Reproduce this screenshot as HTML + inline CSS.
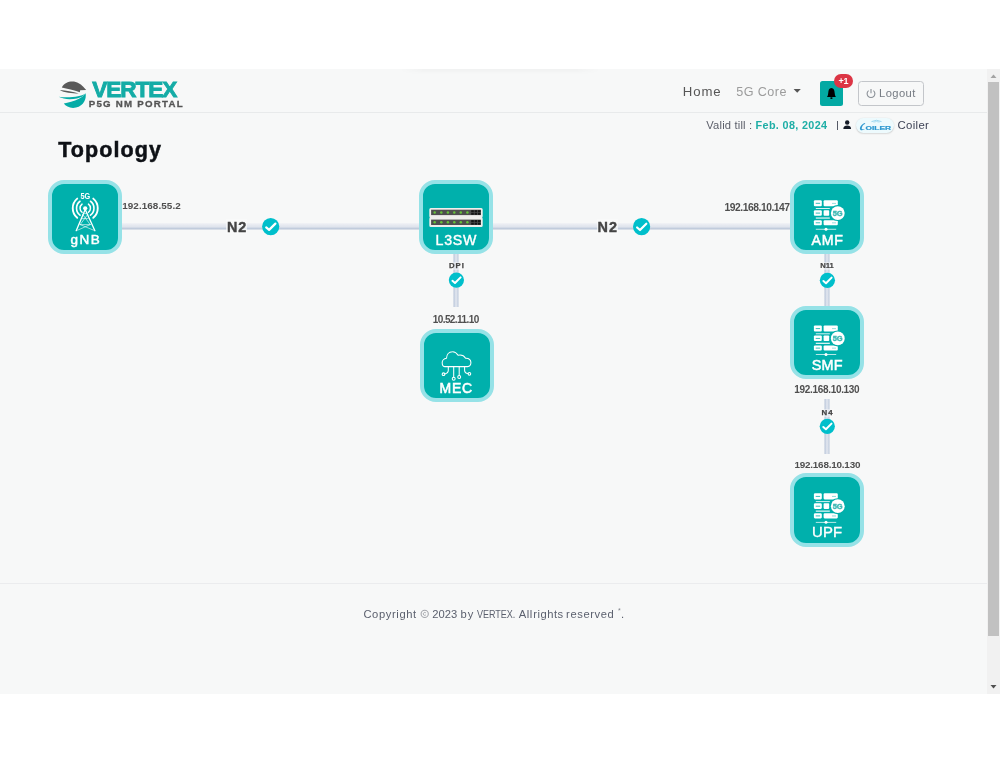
<!DOCTYPE html>
<html><head><meta charset="utf-8">
<style>
html,body{margin:0;padding:0;}
body{width:1000px;height:763px;background:#fff;position:relative;overflow:hidden;font-family:"Liberation Sans",sans-serif;}
.pg{position:absolute;left:0;top:69px;width:1000px;height:625px;background:#f7f8f8;}
.a{position:absolute;}
.t{position:absolute;white-space:nowrap;line-height:1;}
.hl{position:absolute;left:0;width:987px;height:1px;background:#e8eaeb;}
.sb{position:absolute;left:987px;top:69px;width:13px;height:625px;background:#f1f1f1;}
.thumb{position:absolute;left:988px;top:82px;width:11px;height:554px;background:#c1c1c1;}
.node{position:absolute;width:74px;height:73.8px;box-sizing:border-box;border:4px solid #96e2e7;border-radius:16px;background:#00b0ac;}
.hline{position:absolute;top:222.8px;height:7.2px;background:linear-gradient(to bottom,#f2f3f6 0%,#e6e9f0 30%,#dfe4ed 55%,#bfcadb 80%,#e6e9ee 100%);}
.vline{position:absolute;width:6.2px;background:linear-gradient(to right,#e2e6ec 0%,#c4cfe0 22%,#e4e8f0 50%,#c9d3e2 78%,#e2e6ec 100%);}
.ip{position:absolute;white-space:nowrap;line-height:1;font-weight:bold;color:#4f4f4f;}
.lbl{position:absolute;white-space:nowrap;line-height:1;font-weight:bold;color:#444;-webkit-text-stroke:0.4px #444;}
.ft{font-size:11.2px;color:#5a5f6d;}
.nt{position:absolute;white-space:nowrap;line-height:1;color:#fff;}
</style></head><body><div id="w" style="position:absolute;left:0;top:0;width:1000px;height:763px;filter:blur(0.4px);">
<div class="pg"></div>
<div class="a" style="left:400px;top:69px;width:200px;height:5px;background:linear-gradient(to bottom,rgba(0,0,0,0.028),rgba(0,0,0,0));-webkit-mask-image:linear-gradient(to right,transparent,#000 12%,#000 88%,transparent);"></div>
<div class="hl" style="top:112px"></div>
<div class="hl" style="top:583px;background:#ebecee"></div>
<div class="sb"></div>
<div class="thumb"></div>
<svg class="a" style="left:987px;top:69px" width="13" height="625" viewBox="0 0 13 625">
  <path d="M3.5,9 L6.5,5.5 L9.5,9 Z" fill="#a3a3a3"/>
  <path d="M3.5,616 L6.5,619.5 L9.5,616 Z" fill="#505050"/>
</svg>

<!-- logo -->
<svg class="a" style="left:54px;top:78px" width="40" height="32" viewBox="54 78 40 32">
  <path d="M61.8,87.5 C64,83.2 68,81.4 72.3,81.4 C77,81.4 81,84 83,86.6 L86.2,90 L80.2,90.3 L79.8,92.2 C74,90.2 67,88.7 61.8,87.5 Z" fill="#5a5a5a"/>
  <path d="M59.8,90.1 C66,90.7 73,91.6 78.8,93.6 C72,93.6 64,92.8 59.8,90.1 Z" fill="#5a5a5a"/>
  <path d="M85.6,93.2 C86.5,99 84,105.5 76,107.6 C70.5,108.8 66,106.5 63.8,103.6 C68,102.6 74,101.5 79,98.8 C82,97.2 84,95.5 85.6,93.2 Z" fill="#05aca7"/>
  <path d="M58.7,96.8 C64,97.6 72,97.6 78,96.3 C81,95.6 83.5,94.8 85.4,93.4 C83,96.5 80,97.7 77,98.4 C71,99.6 64,99.6 58.7,96.8 Z" fill="#05aca7"/>
</svg>
<div class="t" style="left:92.3px;top:79.2px;font-size:22.6px;letter-spacing:-1.05px;font-weight:bold;color:#14aca6;-webkit-text-stroke:0.9px #14aca6;">VERTEX</div>
<div class="t" style="left:88.7px;top:98.9px;font-size:9.7px;font-weight:bold;color:#555;letter-spacing:1.25px;-webkit-text-stroke:0.3px #555;">P5G NM PORTAL</div>

<!-- nav -->
<div class="t" style="left:682.8px;top:84.95px;font-size:13.2px;letter-spacing:0.9px;color:#565656;">Home</div>
<div class="t" style="left:736.3px;top:85.95px;font-size:12.6px;letter-spacing:0.42px;color:#9c9c9c;">5G Core</div>
<svg class="a" style="left:793px;top:88px" width="9" height="6"><path d="M0.6,1 L7.8,1 L4.2,4.8 Z" fill="#555"/></svg>
<div class="a" style="left:819.8px;top:81px;width:23.4px;height:25.4px;background:#03a9a3;border-radius:2.5px;"></div>
<svg class="a" style="left:817px;top:72px" width="40" height="36" viewBox="817 72 40 36">
  <path d="M831.4,88 C829,88.3 828.4,90.5 828.3,92.5 L827.9,95.3 L827,96.9 L835.9,96.9 L835,95.3 L834.6,92.5 C834.5,90.5 833.9,88.3 831.4,88 Z" fill="#000"/>
  <ellipse cx="831.4" cy="98.1" rx="1.2" ry="0.9" fill="#000"/>
</svg>
<div class="a" style="left:834px;top:74.1px;width:18.6px;height:14.2px;background:#dc3545;border-radius:7.1px;"></div>
<div class="t" style="left:838.4px;top:77.3px;font-size:9px;font-weight:bold;color:#fff;letter-spacing:-0.2px;">+1</div>
<div class="a" style="left:858.2px;top:81.3px;width:65.6px;height:25px;box-sizing:border-box;border:1.5px solid #c3c6ca;border-radius:3.5px;"></div>
<svg class="a" style="left:865px;top:87px" width="12" height="13" viewBox="865 87 12 13">
  <path d="M868.6,90.6 A3.9,3.9 0 1 0 873.4,90.6" fill="none" stroke="#8a9097" stroke-width="1.1"/>
  <path d="M871,88.9 L871,93.2" stroke="#8a9097" stroke-width="1.1"/>
</svg>
<div class="t" style="left:879px;top:88px;font-size:11.2px;letter-spacing:0.43px;color:#757b83;">Logout</div>

<!-- valid till -->
<div class="t" style="left:706.3px;top:120.1px;font-size:11.2px;letter-spacing:0.17px;color:#5d606b;">Valid till :</div>
<div class="t" style="left:755.6px;top:119.7px;font-size:10.8px;letter-spacing:0.35px;font-weight:bold;color:#1eaea6;">Feb. 08, 2024</div>
<div class="a" style="left:837.3px;top:120.6px;width:1.1px;height:9px;background:#555a66;"></div>
<svg class="a" style="left:843px;top:120px" width="9" height="10" viewBox="0 0 9 10">
  <circle cx="4.2" cy="2.5" r="2.2" fill="#141a26"/>
  <path d="M0.3,9 C0.4,6.2 2.1,5.4 4.2,5.4 C6.3,5.4 8,6.2 8.1,9 Z" fill="#141a26"/>
</svg>
<div class="a" style="left:855.8px;top:118px;width:38.7px;height:15.2px;border-radius:8px;background:#edfafd;box-shadow:0 0.6px 1.6px rgba(0,0,0,0.2);"></div>
<svg class="a" style="left:856px;top:118px" width="39" height="15" viewBox="856 118 39 15">
  <path d="M865.2,123 C862.2,123.6 860,126.5 859.9,128.6 C859.8,130.6 862,130.8 864.4,129.6 L864.6,128.9 C863,129.6 861.6,129.5 861.7,128.3 C861.8,126.4 863.4,124.4 865,124 Z" fill="#2e98d0"/>
  <text x="865.5" y="129.8" font-family="Liberation Sans" font-weight="bold" font-size="5.6" fill="#2e98d0" stroke="#2e98d0" stroke-width="0.2" textLength="25.5" lengthAdjust="spacingAndGlyphs">OILER</text>
  <path d="M871.5,121.6 Q876.5,119 881.5,121.6" fill="none" stroke="#9ad6ef" stroke-width="1"/>
  <path d="M873.5,122.2 Q876.5,120.8 879.5,122.2" fill="none" stroke="#9ad6ef" stroke-width="0.7"/>
</svg>
<div class="t" style="left:897.6px;top:119.6px;font-size:11.4px;letter-spacing:0.3px;color:#3d4255;">Coiler</div>

<!-- title -->
<div class="t" style="left:58.2px;top:140.3px;font-size:21.5px;letter-spacing:1.1px;font-weight:bold;color:#0e1116;-webkit-text-stroke:0.5px #0e1116;">Topology</div>

<!-- lines -->
<div class="hline" style="left:122px;width:297.5px;"></div>
<div class="hline" style="left:493px;width:298px;"></div>
<div class="vline" style="left:453.2px;top:254px;height:53px;"></div>
<div class="vline" style="left:824px;top:254px;height:52px;"></div>
<div class="vline" style="left:824px;top:399.4px;height:54.2px;"></div>

<!-- nodes -->
<div class="node" style="left:48.3px;top:180.3px;"></div>
<div class="node" style="left:419.2px;top:180.3px;"></div>
<div class="node" style="left:790.3px;top:180.3px;"></div>
<div class="node" style="left:419.6px;top:328.6px;"></div>
<div class="node" style="left:790.3px;top:305.6px;"></div>
<div class="node" style="left:790.3px;top:473.3px;"></div>

<svg class="a" style="left:0;top:0" width="1000" height="763" viewBox="0 0 1000 763">
  <defs>
    <g id="srv">
      <rect x="23.4" y="19.9" width="7.9" height="6.1" rx="1.1" fill="#fff"/>
      <rect x="33.1" y="19.9" width="14.2" height="6.1" rx="1.1" fill="#fff"/>
      <rect x="23.4" y="29.9" width="7.9" height="5.6" rx="1.1" fill="#fff"/>
      <rect x="33.1" y="29.9" width="5.6" height="5.6" rx="0.8" fill="#fff"/>
      <rect x="23.4" y="39.9" width="7.9" height="5.1" rx="1.1" fill="#fff"/>
      <rect x="33.1" y="39.9" width="14.2" height="5.1" rx="1.1" fill="#fff"/>
      <rect x="25.3" y="27.7" width="14" height="1" fill="#fff" opacity="0.85"/>
      <rect x="25.3" y="37.1" width="14" height="1.3" fill="#fff" opacity="0.85"/>
      <g fill="#01aeaa" opacity="0.8">
        <rect x="25.2" y="22.5" width="4.4" height="1"/>
        <rect x="25.2" y="32.3" width="4.4" height="1"/>
        <rect x="25.2" y="42" width="4.4" height="1"/>
        <circle cx="42.5" cy="23" r="0.6"/><circle cx="44.5" cy="23" r="0.6"/>
        <circle cx="42.5" cy="42.5" r="0.6"/><circle cx="44.5" cy="42.5" r="0.6"/>
      </g>
      <rect x="25.3" y="48.5" width="20.4" height="0.9" fill="#fff" opacity="0.8"/>
      <circle cx="35.5" cy="48.9" r="1.5" fill="#fff"/>
      <circle cx="47.3" cy="32.8" r="8" fill="#01aeaa"/>
      <circle cx="47.3" cy="32.8" r="6.9" fill="#fff"/>
      <text x="47.2" y="35.5" text-anchor="middle" font-family="Liberation Sans" font-weight="bold" font-size="7.9" fill="#3db9b4" stroke="#3db9b4" stroke-width="0.45" textLength="10" lengthAdjust="spacingAndGlyphs">5G</text>
    </g>
  </defs>
  <use href="#srv" x="790.5" y="180.3"/>
  <use href="#srv" x="790.5" y="305.6"/>
  <use href="#srv" x="790.5" y="473.4"/>

  <!-- gNB tower -->
  <g fill="none" stroke="#fff" stroke-linecap="round">
    <path d="M77.22,198.62 A12.5,12.5 0 0 0 77.22,217.78" stroke-width="1.9"/><path d="M93.28,198.62 A12.5,12.5 0 0 1 93.28,217.78" stroke-width="1.9"/><path d="M80.01,201.25 A8.7,8.7 0 0 0 80.01,215.15" stroke-width="1.6"/><path d="M90.49,201.25 A8.7,8.7 0 0 1 90.49,215.15" stroke-width="1.6"/><path d="M82.05,204.10 A5.2,5.2 0 0 0 82.05,212.30" stroke-width="1.45"/><path d="M88.45,204.10 A5.2,5.2 0 0 1 88.45,212.30" stroke-width="1.45"/>
    <path d="M85.2,209.5 L76.2,230.7 M85.2,209.5 L94.9,230.7" stroke-width="1.3"/>
    <path d="M83.4,213.6 L87,213.6 M82.3,218.6 L88.1,218.6 M80.2,224.6 L90.2,224.6 M82.5,214.2 L90.2,224.6 M87.9,214.2 L80.2,224.6 M80.2,224.6 L93.6,230.2 M90.2,224.6 L77.6,230.2" stroke-width="0.8" opacity="0.75"/>
  </g>
  <circle cx="85.2" cy="208.3" r="2.1" fill="#fff"/>
  <text x="85.3" y="198.8" text-anchor="middle" font-family="Liberation Sans" font-weight="bold" font-size="8.7" fill="#fff" textLength="9.8" lengthAdjust="spacingAndGlyphs">5G</text>

  <!-- L3SW switch -->
  <path d="M430.8,207.9 L481.2,207.9 Q482.7,207.9 482.7,209.4 L482.7,216.3 L482.2,217.5 L482.7,218.7 L482.7,225.6 Q482.7,227.1 481.2,227.1 L430.8,227.1 Q429.3,227.1 429.3,225.6 L429.3,218.7 L429.8,217.5 L429.3,216.3 L429.3,209.4 Q429.3,207.9 430.8,207.9 Z" fill="#efeeec"/>
  <rect x="431.1" y="209.7" width="49.8" height="5.4" fill="#4e4e4e"/>
  <rect x="431.1" y="219.6" width="49.8" height="5.4" fill="#4e4e4e"/>
  <g fill="#66c23a">
    <circle cx="434.7" cy="212.4" r="1.25"/><circle cx="441.3" cy="212.4" r="1.25"/><circle cx="447.9" cy="212.4" r="1.25"/><circle cx="454.3" cy="212.4" r="1.25"/><circle cx="460.8" cy="212.4" r="1.25"/><circle cx="467.4" cy="212.4" r="1.25"/>
    <circle cx="434.7" cy="222.3" r="1.25"/><circle cx="441.3" cy="222.3" r="1.25"/><circle cx="447.9" cy="222.3" r="1.25"/><circle cx="454.3" cy="222.3" r="1.25"/><circle cx="460.8" cy="222.3" r="1.25"/><circle cx="467.4" cy="222.3" r="1.25"/>
  </g>
  <g fill="#151515">
    <rect x="471.2" y="210.2" width="2.6" height="2"/><rect x="474.6" y="210.2" width="2.6" height="2"/><rect x="478" y="210.2" width="2.6" height="2"/>
    <rect x="471.2" y="212.8" width="2.6" height="2"/><rect x="474.6" y="212.8" width="2.6" height="2"/><rect x="478" y="212.8" width="2.6" height="2"/>
    <rect x="471.2" y="220.1" width="2.6" height="2"/><rect x="474.6" y="220.1" width="2.6" height="2"/><rect x="478" y="220.1" width="2.6" height="2"/>
    <rect x="471.2" y="222.7" width="2.6" height="2"/><rect x="474.6" y="222.7" width="2.6" height="2"/><rect x="478" y="222.7" width="2.6" height="2"/>
  </g>

  <!-- MEC cloud -->
  <g fill="none" stroke="#fff" stroke-width="1.05" stroke-linecap="round" stroke-linejoin="round">
    <path d="M444.3,366.6 L467.6,366.6 C470,366.6 471,364.3 470.9,362.4 C470.7,360 468.5,358.2 465.6,358.3 C464.4,356.3 461.5,354.6 458.1,355.3 C456.5,352.8 454.3,351.6 452.4,351.7 C449,351.8 446.6,354.5 446.5,358.3 C443.8,358.6 442.2,360.8 442.2,362.5 C442.2,364.8 443,366.5 444.3,366.6 Z"/>
    <path d="M448.3,366.6 L448.3,370.3 C448.3,372.2 446.5,373.6 444.8,374"/>
    <path d="M453.7,366.6 L453.7,377.3"/>
    <path d="M459.2,366.6 L459.2,375.5"/>
    <path d="M464.6,366.6 L464.6,370.3 C464.6,372.2 466.4,373.4 468.1,373.6"/>
    <circle cx="443.5" cy="374.2" r="1.35"/>
    <circle cx="453.7" cy="378.8" r="1.45"/>
    <circle cx="459.2" cy="377" r="1.45"/>
    <circle cx="469.4" cy="373.8" r="1.35"/>
  </g>

  <!-- checks -->
  <g>
    <circle cx="270.7" cy="226.6" r="8.6" fill="#00bfcb"/>
    <circle cx="641.6" cy="226.7" r="8.6" fill="#00bfcb"/>
    <circle cx="456.4" cy="280.1" r="7.6" fill="#00bfcb"/>
    <circle cx="827.4" cy="280.3" r="7.6" fill="#00bfcb"/>
    <circle cx="827.3" cy="426.3" r="7.6" fill="#00bfcb"/>
  </g>
  <g fill="none" stroke="#fff" stroke-linecap="round" stroke-linejoin="round">
    <path d="M266.2,227.4 L269.1,229.9 L275.4,223.6" stroke-width="2.2"/>
    <path d="M637.1,227.5 L640,230 L646.3,223.7" stroke-width="2.2"/>
    <path d="M452.4,280.8 L455,283 L460.6,277.4" stroke-width="2"/>
    <path d="M823.4,281 L826,283.2 L831.6,277.6" stroke-width="2"/>
    <path d="M823.3,427 L825.9,429.2 L831.5,423.6" stroke-width="2"/>
  </g>
</svg>

<!-- node labels -->
<div class="nt" style="left:70.5px;top:233px;font-size:13.5px;letter-spacing:1.55px;-webkit-text-stroke:0.5px #fff;">gNB</div>
<div class="nt" style="left:435.5px;top:233px;font-size:14.2px;letter-spacing:0.75px;-webkit-text-stroke:0.4px #fff;">L3SW</div>
<div class="nt" style="left:811.4px;top:232.9px;font-size:14.2px;letter-spacing:0.8px;-webkit-text-stroke:0.5px #fff;">AMF</div>
<div class="nt" style="left:439.6px;top:381.1px;font-size:14px;letter-spacing:0.7px;-webkit-text-stroke:0.55px #fff;">MEC</div>
<div class="nt" style="left:811.7px;top:358px;font-size:14.4px;letter-spacing:0.3px;-webkit-text-stroke:0.5px #fff;">SMF</div>
<div class="nt" style="left:812.1px;top:525px;font-size:14.9px;letter-spacing:0.07px;-webkit-text-stroke:0.35px #fff;">UPF</div>

<!-- label halos -->
<div class="a" style="left:226px;top:219px;width:21px;height:15px;background:rgba(250,251,251,0.72);"></div>
<div class="a" style="left:596.8px;top:219px;width:21px;height:15px;background:rgba(250,251,251,0.72);"></div>
<div class="a" style="left:448px;top:261.5px;width:17px;height:8.5px;background:rgba(250,251,251,0.45);"></div>
<div class="a" style="left:819.5px;top:261.5px;width:16px;height:8.5px;background:rgba(250,251,251,0.45);"></div>
<div class="a" style="left:821px;top:408.5px;width:13px;height:8.5px;background:rgba(250,251,251,0.45);"></div>
<!-- link labels -->
<div class="lbl" style="left:226.9px;top:219.6px;font-size:14.4px;letter-spacing:1px;">N2</div>
<div class="lbl" style="left:597.6px;top:219.8px;font-size:14.4px;letter-spacing:1px;">N2</div>
<div class="lbl" style="left:449px;top:262.1px;font-size:7.7px;letter-spacing:1.0px;-webkit-text-stroke:0.25px #444;">DPI</div>
<div class="lbl" style="left:820.2px;top:262.1px;font-size:7.7px;letter-spacing:-0.1px;-webkit-text-stroke:0.2px #444;">N11</div>
<div class="lbl" style="left:821.6px;top:408.9px;font-size:7.85px;letter-spacing:0.9px;-webkit-text-stroke:0.25px #444;">N4</div>

<!-- ips -->
<div class="ip" style="left:122.2px;top:201.3px;font-size:9.9px;letter-spacing:0.08px;">192.168.55.2</div>
<div class="ip" style="left:724.5px;top:202.8px;font-size:10.3px;letter-spacing:-0.46px;">192.168.10.147</div>
<div class="ip" style="left:432.7px;top:314.5px;font-size:10px;letter-spacing:-0.57px;">10.52.11.10</div>
<div class="ip" style="left:794.3px;top:384.7px;font-size:10px;letter-spacing:-0.32px;">192.168.10.130</div>
<div class="ip" style="left:794.4px;top:459.9px;font-size:9.9px;letter-spacing:-0.2px;">192.168.10.130</div>

<!-- footer -->
<div class="t ft" style="left:363.4px;top:608.7px;letter-spacing:0.62px;">Copyright</div>
<svg class="a" style="left:420px;top:609px" width="10" height="10" viewBox="420 609 10 10"><circle cx="424.7" cy="613.9" r="3.6" fill="none" stroke="#a5a7ad" stroke-width="1.1"/><path d="M425.9,612.9 A1.5,1.5 0 1 0 425.9,614.9" fill="none" stroke="#a5a7ad" stroke-width="0.9"/></svg>
<div class="t ft" style="left:432.3px;top:608.7px;letter-spacing:0.0px;">2023</div>
<div class="t ft" style="left:460.5px;top:608.7px;letter-spacing:0.95px;">by</div>
<div class="t ft" style="left:477.15px;top:608.7px;letter-spacing:0px;transform:scaleX(0.805);transform-origin:0 0;">VERTEX.</div>
<div class="t ft" style="left:518.7px;top:608.7px;letter-spacing:0.55px;">All</div>
<div class="t ft" style="left:533.3px;top:608.7px;letter-spacing:0.5px;">rights</div>
<div class="t ft" style="left:566.1px;top:608.7px;letter-spacing:0.6px;">reserved</div>
<div class="t ft" style="left:617.9px;top:607.3px;font-size:7px;color:#80848c;">*</div>
<div class="t ft" style="left:621px;top:608.7px;letter-spacing:0px;">.</div>
</div></body></html>
